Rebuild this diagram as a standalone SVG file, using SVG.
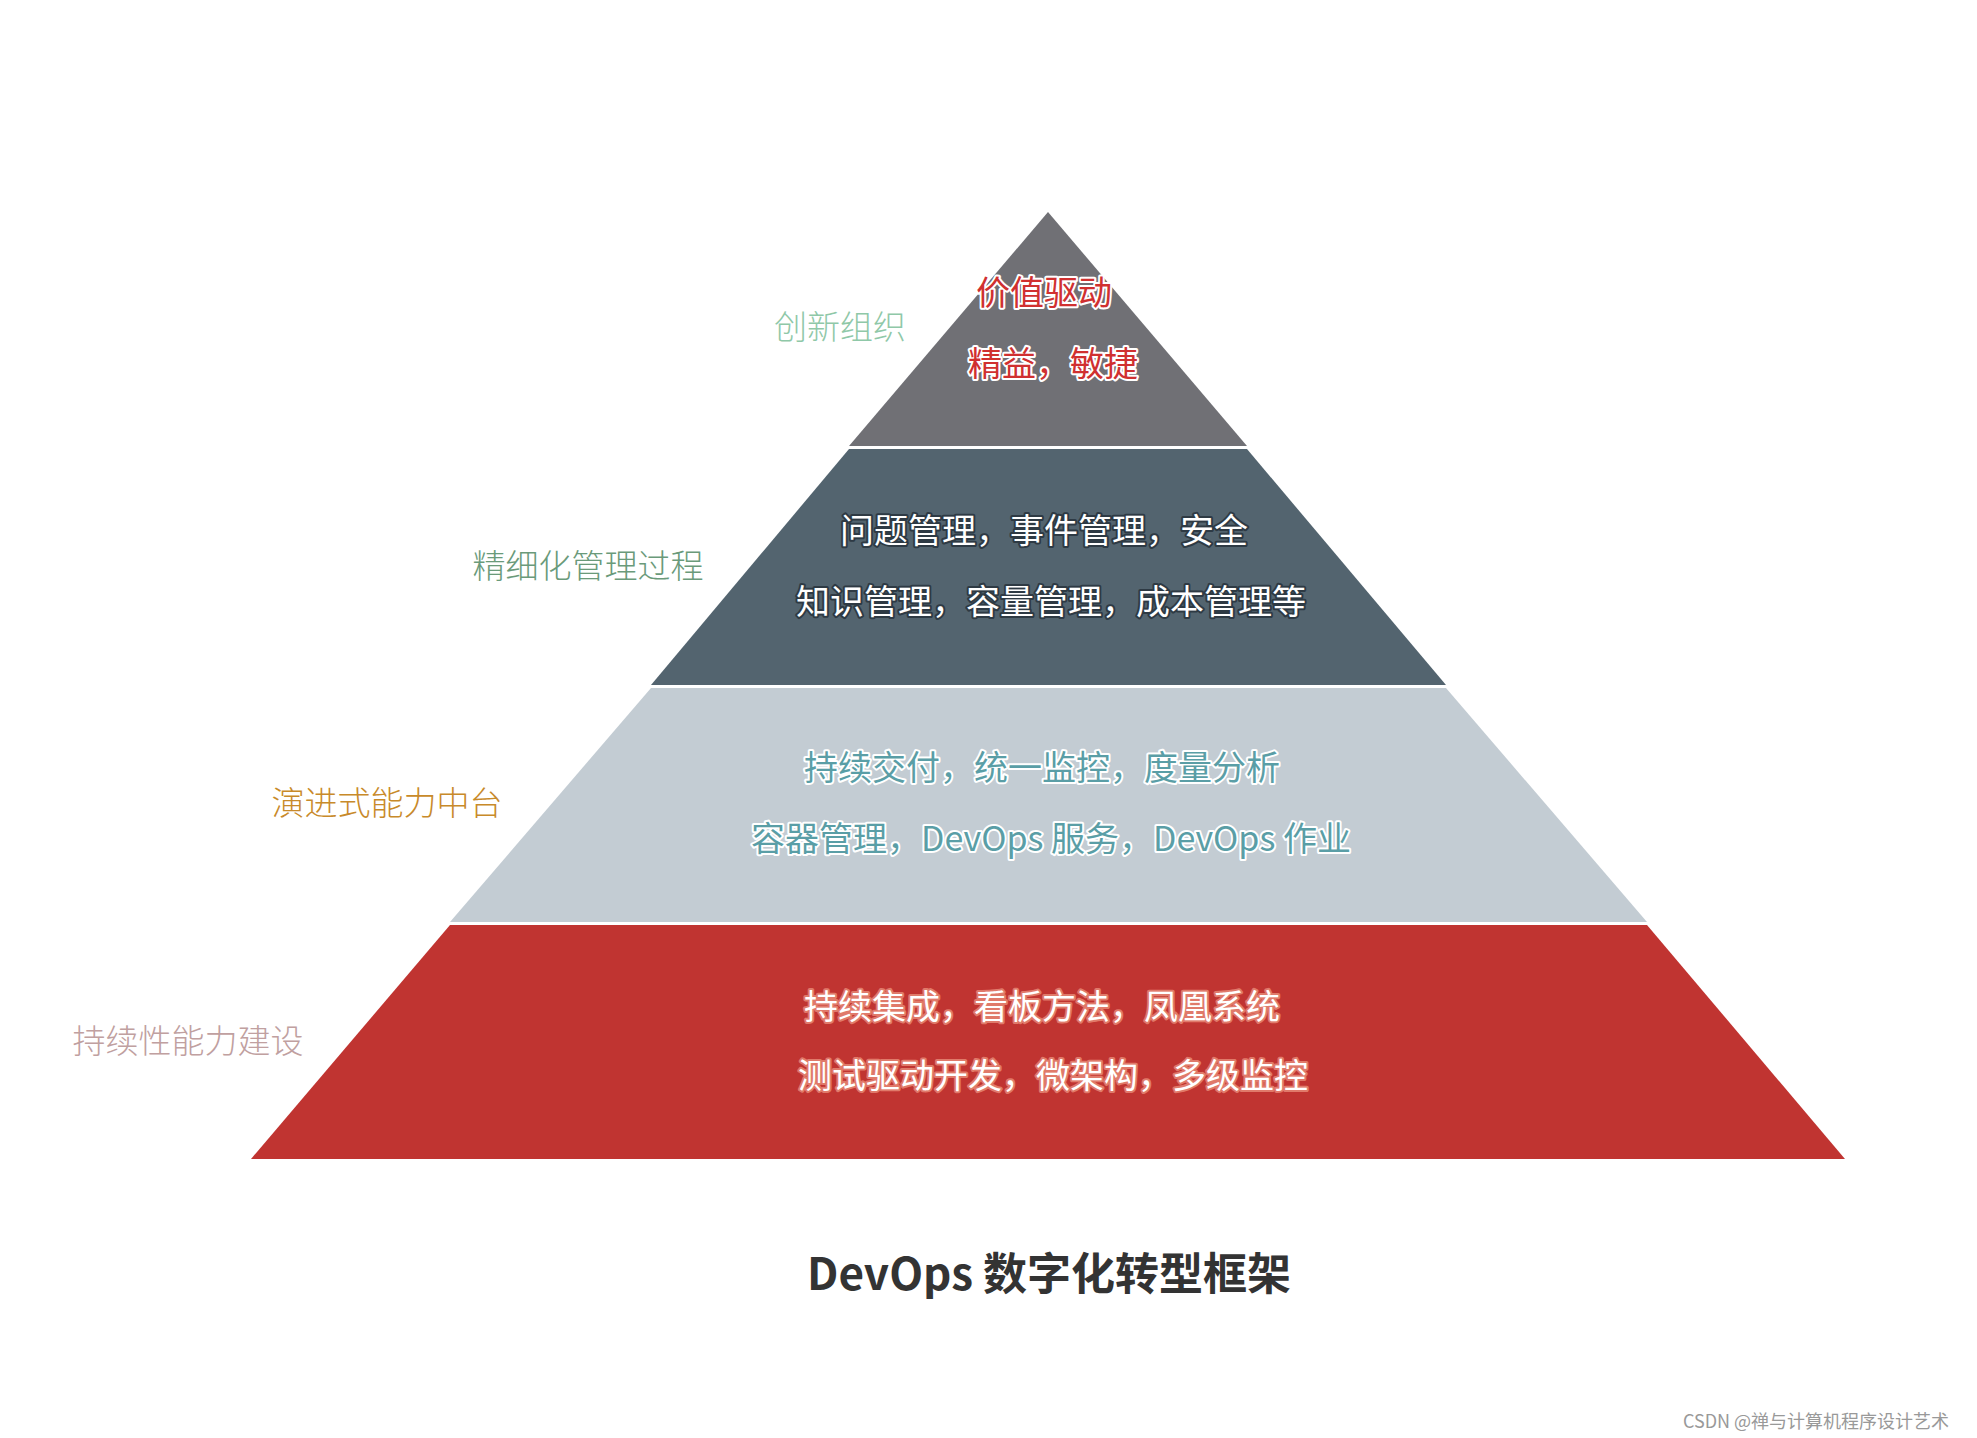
<svg xmlns="http://www.w3.org/2000/svg" width="1977" height="1438" viewBox="0 0 1977 1438">
<style>
text{font-family:"Noto Sans CJK SC","Liberation Sans",sans-serif;text-anchor:middle;dominant-baseline:central}
.in{font-size:34px;paint-order:stroke;stroke-linejoin:round}
.t1{fill:#d03030;stroke:#fff;stroke-width:4px}
.t2{fill:#fff;stroke:#2e3a44;stroke-width:4px}
.t3{fill:#5a9ea6;stroke:#fff;stroke-width:4px}
.t4{fill:#fff;stroke:#e07a6a;stroke-width:4px}
.side{font-size:33px;font-weight:300}
</style>
<rect width="1977" height="1438" fill="#fff"/>
<g id="layer1"><polygon points="1048,212 1247,446 849,446" fill="#707075"/>
<text class="in t1" x="1044" y="290">价值驱动</text><text class="in t1" x="1053" y="361">精益，敏捷</text></g>
<g id="layer2"><polygon points="849,449 1247,449 1446,685 651,685" fill="#53646f"/>
<text class="in t2" x="1044" y="528">问题管理，事件管理，安全</text><text class="in t2" x="1051" y="599">知识管理，容量管理，成本管理等</text></g>
<g id="layer3"><polygon points="651,688 1446,688 1647,922 450,922" fill="#c3ccd3"/>
<text class="in t3" x="1042" y="765">持续交付，统一监控，度量分析</text><text class="in t3" x="1051" y="836">容器管理，DevOps 服务，DevOps 作业</text></g>
<g id="layer4"><polygon points="450,925 1647,925 1845,1159 251,1159" fill="#c03431"/>
<text class="in t4" x="1042" y="1004">持续集成，看板方法，凤凰系统</text><text class="in t4" x="1053" y="1073">测试驱动开发，微架构，多级监控</text></g>
<g id="labels">
<text class="side" x="840" y="325" fill="#8fc8a8">创新组织</text>
<text class="side" x="588" y="564" fill="#6a9a7a">精细化管理过程</text>
<text class="side" x="387" y="801" fill="#c88a2a">演进式能力中台</text>
<text class="side" x="188" y="1039" fill="#c0a0a0">持续性能力建设</text>
</g>
<text x="1049" y="1271" font-size="44" font-weight="bold" fill="#333">DevOps 数字化转型框架</text>
<text x="1816" y="1420" font-size="18" fill="#999">CSDN @禅与计算机程序设计艺术</text>
</svg>
